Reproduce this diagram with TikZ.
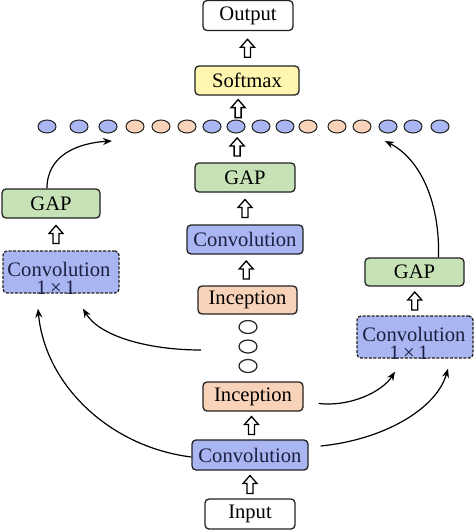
\documentclass[tikz,border=0pt]{standalone}
\usepackage{fontspec}
\setmainfont{Liberation Serif}
\usetikzlibrary{calc,arrows.meta,shapes.geometric}
\definecolor{bfill}{HTML}{AAB6F2}
\definecolor{ofill}{HTML}{F9D3B9}
\definecolor{gfill}{HTML}{C8E2B8}
\definecolor{yfill}{HTML}{FFF6B0}
\definecolor{bord}{HTML}{222222}
\definecolor{navy}{HTML}{1C2040}
\tikzset{
  box/.style={draw=bord, line width=1.3pt, rounded corners=4pt, inner sep=0pt,
     font=\fontsize{20.6}{22}\selectfont, text=black},
  bluebox/.style={box, fill=bfill, text=navy},
  orbox/.style={box, fill=ofill},
  grbox/.style={box, fill=gfill},
  yebox/.style={box, fill=yfill},
  whbox/.style={box, fill=white},
  dashbox/.style={box, fill=bfill, dash pattern=on 3pt off 1.5pt},
  boxtext/.style={font=\fontsize{20.6}{19}\selectfont, text=navy, align=center, inner sep=0pt},
  bdot/.style={ellipse, draw=bord, line width=1pt, fill=bfill, minimum width=18pt, minimum height=13pt, inner sep=0pt},
  odot/.style={bdot, fill=ofill},
  wdot/.style={bdot, fill=white, line width=1.2pt, minimum width=18pt, minimum height=13pt},
  curv/.style={line width=1.2pt, draw=black, -{Stealth[length=9pt,width=7pt]}},
  uparr/.pic={\draw[line width=1.3pt, draw=black, fill=white]
     (-3,9)--(-3,-1)--(-7,-1)--(0,-9)--(7,-1)--(3,-1)--(3,9)--cycle;}
}
\begin{document}
\begin{tikzpicture}[x=1pt,y=-1pt]
\useasboundingbox (0,0) rectangle (474,530);
% main column
\node[whbox, minimum width=90pt, minimum height=30pt] (out) at (248,15.5) {Output};
\node[yebox, minimum width=104pt, minimum height=29pt] (soft) at (247,80.5) {Softmax};
\node[grbox, minimum width=100pt, minimum height=29pt] (gapc) at (245,177.5) {GAP};
\node[bluebox, minimum width=116pt, minimum height=29pt] (convc) at (245,239.5) {Convolution};
\node[orbox, minimum width=99pt, minimum height=28pt] (incu) at (247.5,300) {Inception};
\node[wdot] (e1) at (248,327) {};
\node[wdot] (e2) at (248,346.5) {};
\node[wdot] (e3) at (248,366) {};
\node[orbox, minimum width=100pt, minimum height=29pt] (incl) at (253,396.5) {Inception};
\node[bluebox, minimum width=116pt, minimum height=30pt] (convb) at (250,455) {Convolution};
\node[whbox, minimum width=90pt, minimum height=30pt] (inp) at (250,514) {Input};
% side branches
\node[grbox, minimum width=98pt, minimum height=29pt] (gapl) at (51,203.5) {GAP};
\node[dashbox, minimum width=116pt, minimum height=42pt] (conv1l) at (61,272) {};
\node[boxtext] (t1l) at (59,269) {Convolution};
\node[boxtext] (t1lb) at (56,288) {1\,×\,1};
\node[grbox, minimum width=99pt, minimum height=28pt] (gapr) at (414.5,272) {GAP};
\node[dashbox, minimum width=116pt, minimum height=42pt] (conv1r) at (415,337) {};
\node[boxtext] (t1r) at (414,334) {Convolution};
\node[boxtext] (t1rb) at (409,353) {1\,×\,1};
% dots row
\foreach \x/\s [count=\i] in {47/bdot,79/bdot,108/bdot,135/odot,161/odot,187/odot,212/bdot,236/bdot,261/bdot,285/bdot,308/odot,337/odot,362/odot,388/bdot,413/bdot,440/bdot}
  \node[\s] (d\i) at (\x,126.5) {};
% hollow arrows
\pic at ($(soft.north)!0.5!(out.south)$) {uparr};
\pic at ($(soft.south)!0.5!(d8.north west)$) {uparr};
\pic at ($(gapc.north)!0.5!(d8.south west)$) {uparr};
\pic at ($(convc.north)!0.5!(gapc.south)$) {uparr};
\pic at ($(incu.north)!0.5!(convc.south)$) {uparr};
\pic at ($(convb.north)!0.5!(incl.south)$) {uparr};
\pic at ($(inp.north)!0.5!(convb.south)$) {uparr};
\pic at ($(conv1l.north)!0.5!(gapl.south)$) {uparr};
\pic at ($(conv1r.north)!0.5!(gapr.south)$) {uparr};
% curved connectors (note: y axis points down, so yshift<0 moves down)
\coordinate (tl) at (112,141);
\coordinate (tr) at (385,141);
\coordinate (s4) at (201,350);
\draw[curv] ([xshift=-4pt]gapl.north) .. controls (47,155) and (78,143) .. (tl);
\draw[curv] ([xshift=24pt]gapr.north) .. controls (440,205) and (422,160) .. (tr);
\draw[curv] ([yshift=-2pt]convb.west) .. controls (110,447) and (45,385) .. ([xshift=-23pt,yshift=-15pt]conv1l.south);
\draw[curv] (s4) .. controls (150,350) and (100,337) .. ([xshift=22pt,yshift=-15pt]conv1l.south);
\draw[curv] ([xshift=15pt,yshift=-7pt]incl.east) .. controls (350,407) and (382,392) .. ([xshift=-20pt,yshift=-13pt]conv1r.south);
\draw[curv] ([xshift=12pt,yshift=9pt]convb.east) .. controls (382,440) and (436,410) .. ([xshift=33pt,yshift=-10pt]conv1r.south);
\end{tikzpicture}
\end{document}
